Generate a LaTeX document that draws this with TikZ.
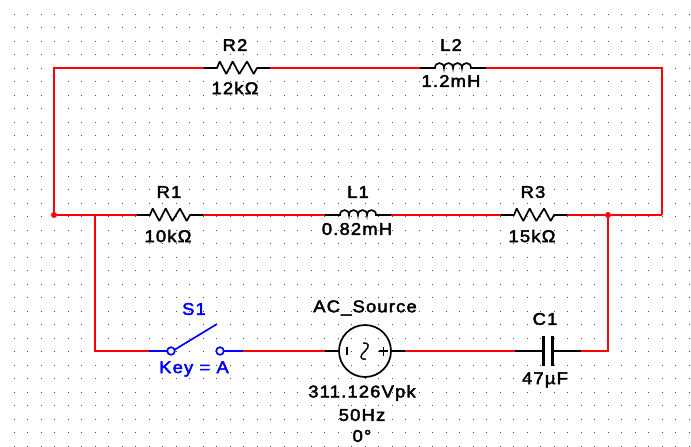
\documentclass[tikz,border=0pt]{standalone}
\usepackage{fontspec}
\setmainfont{Liberation Sans}[LetterSpace=7, FakeStretch=1.08, FakeBold=2.5]
\usetikzlibrary{positioning}
\definecolor{wirered}{RGB}{255,0,0}
\definecolor{keyblue}{RGB}{0,0,255}

\tikzset{
    wire/.style={draw=wirered, line width=2pt},
    lead/.style={line width=1.7pt},
    part/.style={inner sep=0pt, outer sep=0pt, minimum width=66pt, minimum height=16pt},
    lbl/.style={inner sep=0pt, text=black, font=\fontsize{17}{18}\selectfont},
    bluelbl/.style={lbl, text=keyblue},
    junction/.style={circle, fill=wirered, inner sep=0pt, minimum size=6pt},
    resistor/.style={part, path picture={
        \draw [lead, line join=bevel, shift={(path picture bounding box.center)}]
            (-33,0) -- (-20,0) -- (-17.3,-6.5) -- (-10.7,6) -- (-4.3,-6.5)
            -- (2.3,6) -- (10,-6.5) -- (16.7,6) -- (20,0) -- (33,0);}},
    inductor/.style={part, path picture={
        \draw [lead, shift={(path picture bounding box.center)}] (-33,0) -- (-18,0)
            \foreach \i in {-18,-9,0,9} {
                .. controls (\i,-6.5) and (\i+9,-6.5) .. (\i+9,0)
            } -- (33,0);}},
    capacitor/.style={part, minimum height=32pt, path picture={
        \begin{scope}[shift={(path picture bounding box.center)}]
        \draw [lead] (-34,0) -- (-5,0) (4,0) -- (34,0);
        \draw [line width=3pt] (-5,-15) -- (-5,15) (4,-15) -- (4,15);
        \end{scope}}},
    source/.style={part, minimum width=81pt, minimum height=56pt, path picture={
        \begin{scope}[shift={(path picture bounding box.center)}]
        \draw [lead] (-40.5,0) -- (-26,0) (26,0) -- (40.5,0);
        \draw [lead] (0,0) circle [radius=26];
        \draw [line width=1.4pt] (-18,-4) -- (-18,4) (14,0) -- (23,0) (18.5,-4.5) -- (18.5,4.5);
        \draw [line width=1.4pt] (-2,-8) .. controls (4,-9) and (5,-4) .. (0,0)
            .. controls (-5,4) and (-6,9) .. (1,8);
        \end{scope}}},
    switch/.style={part, minimum width=94pt, minimum height=60pt, path picture={
        \begin{scope}[shift={(path picture bounding box.center)}, draw=keyblue]
        \draw [lead] (-47,0) -- (-29,0) (28,0) -- (47,0);
        \draw [lead] (-25,0) circle [radius=3.8] (24,0) circle [radius=3.8];
        \draw [lead] (-21,-1.5) -- (21,-27);
        \end{scope}}}
}

\begin{document}
\begin{tikzpicture} [x=1pt, y=-1pt, on grid]

\useasboundingbox [fill=white] (0,0) rectangle (691,447);

% Grid dots
\foreach \i in {-3,...,47}
    \foreach \j in {-15,...,17}
        \fill [black!70] ({round(54+13.5*\i)},{round(216+13.5*\j)}) rectangle +(1,1);

% Junctions and corner
\node (J1) [junction] at (54,215) {};
\node (J2) [junction] at (608,215) {};
\coordinate (CR) at (662,215);
\coordinate (TP) at (95,215);

% Middle branch
\node (R1) [resistor] at (170,215) {};
\node (L1) [inductor, right = 188pt of R1] {};
\node (R3) [resistor, right = 176pt of L1] {};

% Top branch
\node (R2) [resistor] at (237,68) {};
\node (L2) [inductor, right = 216pt of R2] {};

% Bottom branch
\node (S1) [switch] at (196,351) {};
\node (AC) [source, right = 169pt of S1] {};
\node (C1) [capacitor, right = 183pt of AC] {};

% Labels
\node (R1a) [lbl, above = 23pt of R1, xshift=-1pt] {R1};
\node (R1b) [lbl, below = 21pt of R1, xshift=-2pt] {10kΩ};
\node (L1a) [lbl, above = 23pt of L1] {L1};
\node (L1b) [lbl, below = 14pt of L1, xshift=-1pt] {0.82mH};
\node (R3a) [lbl, above = 23pt of R3, xshift=-1pt] {R3};
\node (R3b) [lbl, below = 21pt of R3, xshift=-2pt] {15kΩ};
\node (R2a) [lbl, above = 23pt of R2, xshift=-2pt] {R2};
\node (R2b) [lbl, below = 20pt of R2, xshift=-2pt] {12kΩ};
\node (L2a) [lbl, above = 23pt of L2, xshift=-2pt] {L2};
\node (L2b) [lbl, below = 13pt of L2, xshift=-2pt] {1.2mH};
\node (S1a) [bluelbl, above = 42pt of S1, xshift=-2pt] {S1};
\node (S1b) [bluelbl, below = 18pt of S1, xshift=-2pt] {Key = A};
\node (ACa) [lbl, above = 43pt of AC] {AC\_Source};
\node (ACb) [lbl, below = 42pt of AC, xshift=-3pt] {311.126Vpk};
\node (ACc) [lbl, below = 22pt of ACb] {50Hz};
\node (ACd) [lbl, below = 21pt of ACc] {0°};
\node (C1a) [lbl, above = 32pt of C1, xshift=-3pt] {C1};
\node (C1b) [lbl, below = 29pt of C1, xshift=-3pt] {47µF};

% Wires
\path [wire]
    (J1) -- (R1.west)
    (R1.east) -- (L1.west)
    (L1.east) -- (R3.west)
    (R3.east) -- (J2)
    (J2) -- (CR)
    (CR) |- (L2.east)
    (L2.west) -- (R2.east)
    (R2.west) -| (J1)
    (TP) |- (S1.west)
    (S1.east) -- (AC.west)
    (AC.east) -- (C1.west)
    (C1.east) -| (J2);
\end{tikzpicture}
\end{document}
